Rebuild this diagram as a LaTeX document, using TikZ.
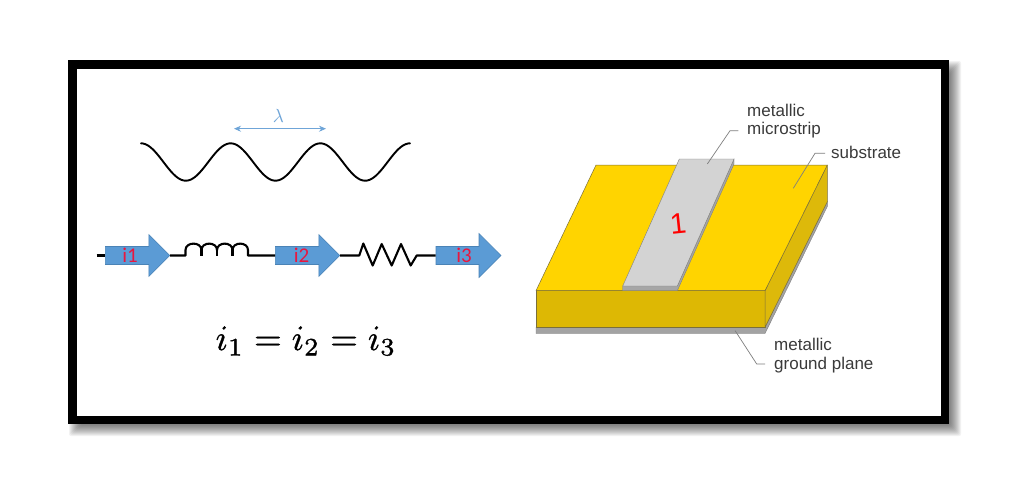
\documentclass[tikz,border=0pt]{standalone}
\usepackage{fontspec}
\setmainfont{Liberation Sans}
\newfontfamily\calib{Carlito}
\usetikzlibrary{shapes.arrows,arrows.meta}
\definecolor{arrowblue}{HTML}{5B9BD5}
\definecolor{arrowedge}{HTML}{4A83B6}
\definecolor{lamblue}{HTML}{6FA5D8}
\definecolor{labelred}{HTML}{E8173F}
\definecolor{yelltop}{HTML}{FFD400}
\definecolor{yellfront}{HTML}{DDB804}
\definecolor{yellside}{HTML}{DDB90A}
\definecolor{slabedge}{HTML}{7A6F3A}
\definecolor{gndgray}{HTML}{A3A3A3}
\definecolor{striptop}{HTML}{D3D3D3}
\definecolor{stripside}{HTML}{A6A6A6}
\definecolor{leadergray}{HTML}{7F7F7F}
\definecolor{labelgray}{HTML}{3A3A3A}
\tikzset{
  flow/.style={single arrow,draw=arrowedge,fill=arrowblue,line width=.6pt,inner sep=0pt,
    single arrow tip angle=90,text=labelred,anchor=tail,font=\calib\fontsize{21}{21}\selectfont},
  wire/.style={black,line width=2.1pt,line join=round},
  slab/.style={draw=slabedge,line width=.5pt,line join=round},
  leader/.style={leadergray,line width=.7pt},
  note/.style={text=labelgray,font=\fontsize{17}{18.5}\selectfont,align=left,anchor=west,inner sep=0pt}
}
\begin{document}
\begin{tikzpicture}[x=1pt,y=-1pt]
\useasboundingbox (0,0) rectangle (1024,483);
\fill[white] (0,0) rectangle (1024,483);
% frame with soft shadow
\foreach \d in {11,10,...,0}{
  \fill[black,opacity=.05,rounded corners=2pt] (80-\d,72-\d) rectangle (950+\d,425+\d);
}
\fill[black] (68,59.500) rectangle (949,424);
\fill[white] (76.800,68.500) rectangle (940.500,415.500);
% wave
\draw[black,line width=1.9pt,line cap=round] plot[domain=141:410,samples=120,smooth] (\x,{162-18.7*cos(4.0147*(\x-141))});
% wavelength
\coordinate (lamL) at (234,128.7);
\coordinate (lamR) at (326,128.7);
\draw[lamblue,line width=.9pt,{Stealth[length=7pt,width=6pt]}-{Stealth[length=7pt,width=6pt]}] (lamL) -- (lamR);
\node[text=lamblue,scale=1.9,inner sep=0pt] (lam) at (278.500,116) {$\lambda$};
% circuit arrows
\node[flow,minimum height=64.500pt,minimum width=42pt,single arrow head extend=10pt] (i1) at (105,255.500) {\hspace*{-6pt}i1};
\node[flow,minimum height=64.500pt,minimum width=42pt,single arrow head extend=10pt] (i2) at (275,255.500) {\hspace*{-3pt}i2};
\node[flow,minimum height=65pt,minimum width=44pt,single arrow head extend=11pt] (i3) at (435.700,255.500) {i3};
\coordinate (lead) at (96.500,255.500);
% wires
\draw[wire] (lead) -- (i1.tail);
\draw[wire] (i1.tip) -- (185.500,255.500) -- (185.500,250)
  .. controls (185.500,241.500) and (201.500,241.500) .. (201.500,250)
  .. controls (201.500,241.500) and (217,241.500) .. (217,250)
  .. controls (217,241.500) and (232.500,241.500) .. (232.500,250)
  .. controls (232.500,241.500) and (248,241.500) .. (248,250)
  -- (248,255.500) -- (i2.tail);
\draw[wire] (201.500,249) -- (201.500,256);
\draw[wire] (217,249) -- (217,256);
\draw[wire] (232.500,249) -- (232.500,256);
\draw[wire] (i2.tip) -- (359.300,255.500) -- (363.300,243.500) -- (372.700,265.500) -- (381.700,244)
  -- (391.700,265.500) -- (401,244) -- (410.700,265.500) -- (416.700,255.500) -- (i3.tail);
% equation
\node[anchor=base,inner sep=0pt,scale=3.58] (eq) at (306,350) {\special{pdf:code 2 Tr 0.09 w}$i_1=i_2=i_3$\special{pdf:code 0 Tr 1 w}};
% substrate
\fill[gndgray,draw=gray,line width=.4pt] (536,327.300) -- (765,327.300) -- (827.300,201.700) -- (827.300,206.500) -- (765,333.500) -- (536,333.500) -- cycle;
\filldraw[fill=yellfront,slab] (536,290.700) rectangle (765,327.300);
\filldraw[fill=yellside,slab] (765,290.700) -- (827.300,165) -- (827.300,201.700) -- (765,327.300) -- cycle;
\filldraw[fill=yelltop,slab] (596,165) -- (827.300,165) -- (765,290.700) -- (536,290.700) -- cycle;
% strip
\filldraw[fill=stripside,draw=gray,line width=.4pt] (622.700,286) -- (677.300,286) -- (734,159) -- (734,164) -- (677.300,290.700) -- (622.700,290.700) -- cycle;
\filldraw[fill=striptop,draw=gray,line width=.4pt] (679.300,159) -- (734,159) -- (677.300,286) -- (622.700,286) -- cycle;
\node[text=red,font=\fontsize{29}{29}\selectfont,rotate=6,inner sep=0pt] (one) at (678,224) {1};
% labels
\node[note] (ms) at (747,121) {metallic\\microstrip};
\node[note] (sb) at (831,152) {substrate};
\node[note] (gp) at (774,355.500) {metallic\\ground plane};
\coordinate (msp) at (707.300,164);
\coordinate (sbp) at (793.300,188.300);
\coordinate (gpp) at (735,330.500);
\draw[leader] (msp) -- (730,130.700) -- (738.300,130.700);
\draw[leader] (sbp) -- (815,153.300) -- (825,153.300);
\draw[leader] (gpp) -- (756.700,364) -- (765,364);
\end{tikzpicture}
\end{document}
